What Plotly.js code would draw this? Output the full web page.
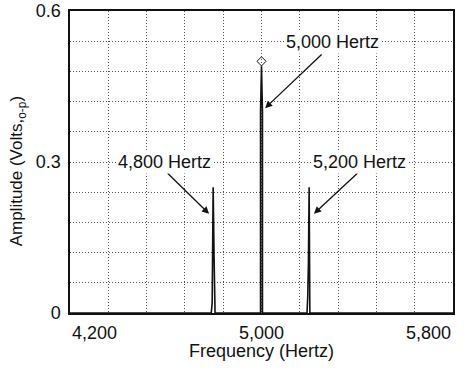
<!DOCTYPE html>
<html>
<head>
<meta charset="utf-8">
<script src="https://cdn.plot.ly/plotly-3.0.1.min.js"></script>
<style>
  html, body { margin: 0; padding: 0; background: #fff; }
  #chart { width: 464px; height: 368px; }
</style>
</head>
<body>
<div id="chart"></div>
<script>
// ---- data ----
const freqHz   = [4200, 4790, 4794, 4798, 4802, 4806, 4994, 4996, 4996, 5000, 5004, 5004, 5006, 5190, 5193, 5196, 5199, 5202, 5800];
const ampVolts = [0,    0,    0.02, 0.25, 0.11, 0,    0,    0,    0.40, 0.49, 0.40, 0,    0,    0,    0.03, 0.10, 0.25, 0,    0];
const topMarkerFreq = [5000];
const topMarkerAmp  = [0.50];
const peakLabels = ["4,800 Hertz", "5,000 Hertz", "5,200 Hertz"];
const xTickVals = [4200, 5000, 5800];
const xTickText = ["4,200", "5,000", "5,800"];
const yTickVals = [0, 0.3, 0.6];
const yTickText = ["0", "0.3", "0.6"];
const xTitle = "Frequency (Hertz)";
const yTitle = "Amplitude (Volts,<sub>o-p</sub>)";
// ---------------------------------------

const FONT = "Liberation Sans, Arial, Helvetica, sans-serif";
const ink = "#111";

const traces = [
  {
    x: freqHz, y: ampVolts, type: "scatter", mode: "lines",
    line: { color: "#111", width: 1.6 },
    hoverinfo: "skip", showlegend: false
  },
  {
    x: topMarkerFreq, y: topMarkerAmp, type: "scatter", mode: "markers",
    marker: { symbol: "diamond-open", size: 7, color: "#111", line: { width: 1 } },
    hoverinfo: "skip", showlegend: false
  }
];

// arrows (tip in data coords, tail as pixel offset) and labels
const arrowSpec = [
  { x: 4781, y: 0.197, ax: -43, ay: -42 },
  { x: 5015, y: 0.407, ax: 58,  ay: -55 },
  { x: 5219, y: 0.197, ax: 45,  ay: -42 }
];
const labelPos = [
  { x: 4595, y: 0.300 },
  { x: 5298, y: 0.539 },
  { x: 5410, y: 0.300 }
];

const annotations = [];
arrowSpec.forEach(a => {
  annotations.push({
    xref: "x", yref: "y", x: a.x, y: a.y, ax: a.ax, ay: a.ay,
    text: "", showarrow: true, arrowhead: 2, arrowsize: 1.1, arrowwidth: 1.3,
    arrowcolor: "#111", standoff: 0, startstandoff: 0
  });
});
peakLabels.forEach((t, i) => {
  annotations.push({
    xref: "x", yref: "y", x: labelPos[i].x, y: labelPos[i].y,
    text: t, showarrow: false, xanchor: "center", yanchor: "middle",
    bgcolor: "#fff", borderpad: 1,
    font: { family: FONT, size: 18, color: ink }
  });
});
const xAlign = ["left", "center", "right"];
xTickVals.forEach((v, i) => {
  annotations.push({
    xref: "x", yref: "paper", x: v, y: 0, yanchor: "middle", yshift: -20,
    xanchor: xAlign[i], text: xTickText[i], showarrow: false,
    font: { family: FONT, size: 18, color: ink }
  });
});
// y-axis title as rotated annotation for exact placement
annotations.push({
  xref: "paper", yref: "paper", x: -0.135, y: 0.47,
  xanchor: "center", yanchor: "middle", textangle: -90,
  text: yTitle, showarrow: false,
  font: { family: FONT, size: 17, color: ink }
});

const gridDash = "1px,2px";
const layout = {
  width: 464, height: 368,
  margin: { l: 70, r: 11, t: 11, b: 55, pad: 0 },
  paper_bgcolor: "#fff", plot_bgcolor: "#fff",
  font: { family: FONT, size: 18, color: ink },
  showlegend: false,
  xaxis: {
    range: [4200, 5800], tickvals: xTickVals, showticklabels: false,
    ticks: "", showgrid: true, gridcolor: "#555", gridwidth: 1, griddash: gridDash,
    minor: { dtick: 160, tick0: 4200, showgrid: true, gridcolor: "#555", gridwidth: 1, griddash: gridDash, ticks: "" },
    showline: true, linecolor: "#111", linewidth: 1.6, mirror: true,
    zeroline: false, fixedrange: true,
    title: { text: xTitle, font: { family: FONT, size: 18, color: ink }, standoff: 31 }
  },
  yaxis: {
    range: [0, 0.6], tickvals: yTickVals, ticktext: yTickText,
    ticks: "", ticklabelstandoff: 4,
    tickfont: { family: FONT, size: 18, color: ink },
    showgrid: true, gridcolor: "#555", gridwidth: 1, griddash: gridDash,
    minor: { dtick: 0.06, tick0: 0, showgrid: true, gridcolor: "#555", gridwidth: 1, griddash: gridDash, ticks: "" },
    showline: true, linecolor: "#111", linewidth: 1.6, mirror: true,
    zeroline: false, fixedrange: true
  },
  annotations: annotations
};

Plotly.newPlot("chart", traces, layout, { staticPlot: true, displayModeBar: false });
</script>
</body>
</html>
